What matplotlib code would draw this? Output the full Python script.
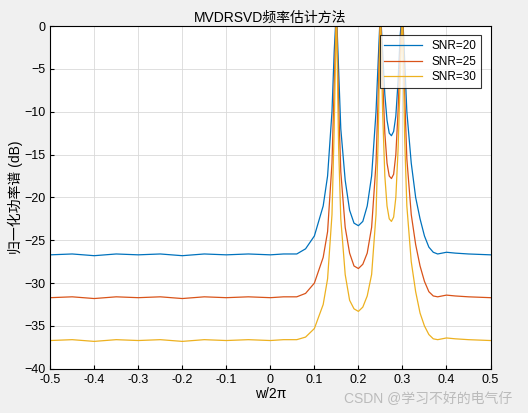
import matplotlib.pyplot as plt

plt.rcParams['font.family'] = ['Liberation Sans', 'Noto Sans CJK SC', 'DejaVu Sans']

freq = [-0.5, -0.45, -0.4, -0.35, -0.3, -0.25, -0.2, -0.15, -0.1, -0.05, 0.0, 0.03, 0.06, 0.08, 0.10, 0.12,
        0.13, 0.14, 0.145, 0.15, 0.155, 0.16, 0.17, 0.18, 0.19, 0.2, 0.21, 0.22, 0.23, 0.24, 0.245, 0.25,
        0.255, 0.26, 0.265, 0.27, 0.275, 0.28, 0.285, 0.29, 0.295, 0.3, 0.305, 0.31, 0.32, 0.33, 0.34,
        0.35, 0.36, 0.37, 0.38, 0.4, 0.42, 0.45, 0.5]
snr20 = [-26.7, -26.6, -26.8, -26.6, -26.7, -26.6, -26.8, -26.6, -26.7, -26.6, -26.7, -26.6, -26.6, -26.0,
         -24.5, -21.0, -17.5, -10.0, -3.0, 2.0, -5.0, -12.0, -18.0, -21.5, -23.0, -23.3, -22.8, -21.0,
         -17.5, -10.0, -4.0, 2.0, -3.0, -8.0, -11.0, -12.5, -12.8, -12.3, -10.5, -6.5, -1.0, 2.0, -4.0,
         -10.0, -16.0, -20.0, -22.5, -24.5, -25.8, -26.4, -26.6, -26.4, -26.5, -26.6, -26.7]
snr25 = [-31.7, -31.6, -31.8, -31.6, -31.7, -31.6, -31.8, -31.6, -31.7, -31.6, -31.7, -31.6, -31.6, -31.2,
         -30.0, -27.0, -24.0, -16.0, -7.0, 2.0, -9.0, -17.0, -23.5, -26.5, -28.0, -28.3, -27.8, -26.5,
         -23.5, -16.0, -8.0, 2.0, -6.0, -12.5, -16.0, -17.5, -17.8, -17.3, -15.0, -10.0, -3.0, 2.0, -8.0,
         -15.5, -22.0, -25.5, -28.0, -29.8, -31.0, -31.5, -31.6, -31.4, -31.5, -31.6, -31.7]
snr30 = [-36.7, -36.6, -36.8, -36.6, -36.7, -36.6, -36.8, -36.6, -36.7, -36.6, -36.7, -36.6, -36.6, -36.3,
         -35.3, -32.5, -29.5, -22.0, -12.0, 2.0, -14.0, -22.5, -29.0, -32.0, -33.0, -33.3, -32.8, -31.5,
         -29.0, -22.0, -13.0, 2.0, -10.0, -17.5, -21.0, -22.5, -22.8, -22.3, -20.0, -14.5, -6.0, 2.0, -13.0,
         -21.0, -27.5, -31.0, -33.5, -35.0, -36.0, -36.5, -36.6, -36.4, -36.5, -36.6, -36.7]
labels = ['SNR=20', 'SNR=25', 'SNR=30']
colors = ['#0072BD', '#D95319', '#EDB120']

fig = plt.figure(figsize=(5.28, 4.13), dpi=100)
fig.patch.set_facecolor('#F0F0F0')
ax = fig.add_axes([0.095, 0.107, 0.834, 0.83])
for y, lab, c in zip([snr20, snr25, snr30], labels, colors):
    ax.plot(freq, y, color=c, linewidth=0.9, label=lab)
ax.set_xlim(-0.5, 0.5)
ax.set_ylim(-40, 0)
ax.set_xticks([-0.5, -0.4, -0.3, -0.2, -0.1, 0, 0.1, 0.2, 0.3, 0.4, 0.5])
ax.set_xticklabels(['-0.5', '-0.4', '-0.3', '-0.2', '-0.1', '0', '0.1', '0.2', '0.3', '0.4', '0.5'])
ax.set_yticks(range(-40, 1, 5))
ax.tick_params(labelsize=9, direction='in', length=3)
ax.grid(color='#D9D9D9', linewidth=0.6)
ax.set_title('MVDRSVD频率估计方法', fontsize=10, pad=3)
ax.set_xlabel('w/2π', fontsize=10, labelpad=1)
ax.set_ylabel('归一化功率谱 (dB)', fontsize=10, labelpad=1)
leg = ax.legend(loc='upper right', fontsize=8.5, fancybox=False, edgecolor='black',
                borderaxespad=0.8, handlelength=3.2, labelspacing=0.3)
leg.get_frame().set_linewidth(0.8)
fig.text(0.97, 0.025, 'CSDN @学习不好的电气仔', ha='right', fontsize=10, color='#BBBBBB')
fig.savefig('out.png', dpi=100, facecolor=fig.get_facecolor())
